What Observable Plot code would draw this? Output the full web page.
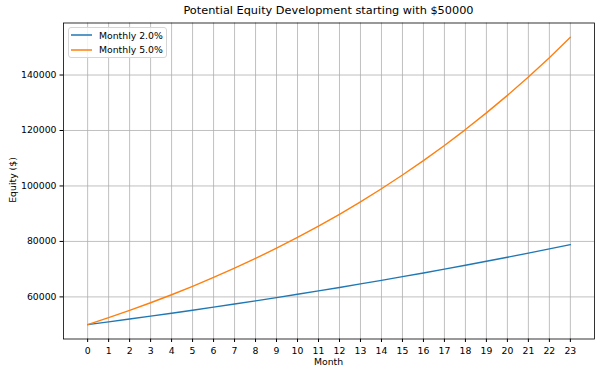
<!DOCTYPE html>
<html>
<head>
<meta charset="utf-8">
<script src="https://cdn.jsdelivr.net/npm/d3@7"></script>
<script src="https://cdn.jsdelivr.net/npm/@observablehq/plot@0.6"></script>
<style>
  html, body { margin: 0; padding: 0; background: #fff; }
  #wrap { position: relative; width: 600px; height: 374px; font-family: "DejaVu Sans", sans-serif; color: #000; }
  #wrap > svg { position: absolute; left: 0; top: 0; }
  .title { position: absolute; left: 63px; width: 531px; top: 4px; text-align: center; font-size: 11.3px; }
  .xlabel { position: absolute; left: 63px; width: 531px; top: 356px; text-align: center; font-size: 9.3px; }
  .ylabel { position: absolute; left: 12px; top: 180px; transform: translate(-50%, -50%) rotate(-90deg); font-size: 9.3px; white-space: nowrap; }
  .legend { position: absolute; left: 68px; top: 27px; width: 99px; height: 31px; border: 1px solid #d6d6d6; border-radius: 3px; background: rgba(255,255,255,0.8); box-sizing: border-box; font-size: 9.3px; }
  .legend .row { position: absolute; left: 0; height: 12px; display: flex; align-items: center; }
  .legend .sw { display: block; margin-left: 2px; margin-right: 7px; }
</style>
</head>
<body>
<div id="wrap"></div>
<script>
const months = [0,1,2,3,4,5,6,7,8,9,10,11,12,13,14,15,16,17,18,19,20,21,22,23];
const monthly2 = [50000,51000,52020,53060,54122,55204,56308,57434,58583,59755,60950,62169,63412,64680,65974,67293,68639,70012,71412,72841,74297,75783,77299,78845];
const monthly5 = [50000,52500,55125,57881,60775,63814,67005,70355,73873,77566,81445,85517,89793,94282,98997,103946,109144,114601,120331,126348,132665,139298,146263,153576];
const seriesNames = ["Monthly 2.0%", "Monthly 5.0%"];
const seriesColors = ["#1f77b4", "#ff7f0e"];
const yTicks = [60000, 80000, 100000, 120000, 140000];
const titleText = "Potential Equity Development starting with $50000";
const xLabel = "Month";
const yLabel = "Equity ($)";

const rows = [];
[monthly2, monthly5].forEach((vals, i) => {
  vals.forEach((v, j) => rows.push({month: months[j], value: v, series: seriesNames[i]}));
});

const yMin = 50000, yMax = d3.max(monthly5);
const pad = (yMax - yMin) * 0.05;
const xPad = (months[months.length - 1] - months[0]) * 0.05;

const chart = Plot.plot({
  width: 600,
  height: 374,
  marginTop: 22.5,
  marginBottom: 35.5,
  marginLeft: 63,
  marginRight: 6,
  style: { fontFamily: "DejaVu Sans, sans-serif", fontSize: "9.3px", color: "#000", background: "#fff" },
  x: { domain: [months[0] - xPad, months[months.length - 1] + xPad], ticks: months, tickFormat: d => String(d), tickSize: 3.5, tickPadding: 4.5, label: null },
  y: { domain: [yMin - pad, yMax + pad], ticks: yTicks, tickFormat: d => String(d), tickSize: 3.5, tickPadding: 3.5, label: null },
  color: { domain: seriesNames, range: seriesColors },
  marks: [
    Plot.ruleX(months, { stroke: "#b0b0b0", strokeWidth: 0.8 }),
    Plot.ruleY(yTicks, { stroke: "#b0b0b0", strokeWidth: 0.8 }),
    Plot.line(rows, { x: "month", y: "value", stroke: "series", z: "series", strokeWidth: 1.4 }),
    Plot.frame({ stroke: "#000", strokeWidth: 0.8 })
  ]
});

const wrap = document.getElementById("wrap");
wrap.appendChild(chart);

const t = document.createElement("div"); t.className = "title"; t.textContent = titleText; wrap.appendChild(t);
const xl = document.createElement("div"); xl.className = "xlabel"; xl.textContent = xLabel; wrap.appendChild(xl);
const yl = document.createElement("div"); yl.className = "ylabel"; yl.textContent = yLabel; wrap.appendChild(yl);

const lg = document.createElement("div"); lg.className = "legend";
seriesNames.forEach((name, i) => {
  const r = document.createElement("div"); r.className = "row"; r.style.top = (1 + i * 14.5) + "px";
  const sw = d3.create("svg").attr("class", "sw").attr("width", 21).attr("height", 4);
  sw.append("line").attr("x1", 0).attr("x2", 21).attr("y1", 2).attr("y2", 2).attr("stroke", seriesColors[i]).attr("stroke-width", 1.5);
  const tx = document.createElement("span"); tx.textContent = name;
  r.appendChild(sw.node()); r.appendChild(tx); lg.appendChild(r);
});
wrap.appendChild(lg);
</script>
</body>
</html>
